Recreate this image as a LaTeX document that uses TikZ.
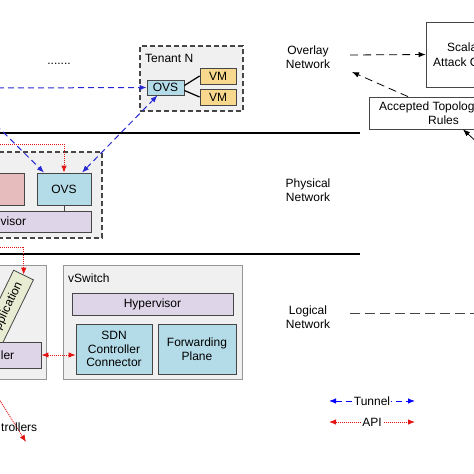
\documentclass[tikz,border=0pt]{standalone}
\usepackage{fontspec}
\setmainfont{Liberation Sans}
\usetikzlibrary{arrows.meta,positioning}
\definecolor{hostgray}{RGB}{240,240,240}
\definecolor{ovsblue}{RGB}{180,220,232}
\definecolor{vmyellow}{RGB}{247,216,140}
\definecolor{guestpink}{RGB}{230,188,188}
\definecolor{hvlavender}{RGB}{222,213,232}
\definecolor{appgreen}{RGB}{232,236,210}
\definecolor{tunnelblue}{RGB}{40,40,210}
\definecolor{apired}{RGB}{228,20,20}
\definecolor{edgegray}{RGB}{70,70,70}
\definecolor{framegray}{RGB}{150,150,150}

\begin{document}
\begin{tikzpicture}[x=1pt, y=-1pt, >={Latex[length=7pt,width=5.5pt]},
    every node/.style={font=\fontsize{12}{13.8}\selectfont, inner sep=0pt},
    hostdash/.style={draw=edgegray, fill=hostgray, line width=1.1pt, dash pattern=on 5pt off 3pt},
    hostplain/.style={draw=framegray, fill=hostgray, line width=1pt},
    ovsbox/.style={draw=edgegray, fill=ovsblue, line width=0.8pt, align=center},
    vmbox/.style={draw=edgegray, fill=vmyellow, line width=0.8pt},
    guestbox/.style={draw=edgegray, fill=guestpink, line width=0.8pt},
    hvbox/.style={draw=edgegray, fill=hvlavender, line width=0.8pt},
    appbox/.style={draw=edgegray, fill=appgreen, line width=0.8pt},
    plainbox/.style={draw=edgegray, fill=white, line width=0.8pt},
    tunnel/.style={draw=tunnelblue, line width=1pt, dash pattern=on 6pt off 4pt},
    api/.style={draw=apired, line width=0.9pt, dash pattern=on 1pt off 1pt},
    flow/.style={draw=black, line width=0.8pt, dash pattern=on 8pt off 5pt}]
  \useasboundingbox (0,0) rectangle (474,474);
  \clip (0,0) rectangle (474,474);

  % overlay network
  \node at (59,64) {.......};
  \node[hostdash, minimum width=103, minimum height=65] (tenant) at (191.5,78.5) {};
  \node[anchor=west] (tenantlbl) at (145,58) {Tenant N};
  \node[ovsbox, minimum width=37, minimum height=15] (tovs) at (165.5,87.5) {OVS};
  \node[vmbox, minimum width=36, minimum height=16] (vm1) at (218,76) {VM};
  \node[vmbox, minimum width=36, minimum height=16] (vm2) at (218,97) {VM};
  \draw[line width=1.2pt] ([yshift=2pt]tovs.east) -- (vm1.west);
  \draw[line width=1.2pt] ([yshift=-3pt]tovs.east) -- (vm2.west);

  % layer separators
  \draw[line width=1.7pt] (0,133) -- (360,133);
  \draw[line width=1.7pt] (0,254) -- (360,254);
  \node[align=center] (ovly) at (308,57) {Overlay\\Network};
  \node[align=center] (phys) at (308,190) {Physical\\Network};
  \node[align=center] (logi) at (308,317) {Logical\\Network};

  % right side
  \node[plainbox, minimum width=54, minimum height=65] (attack) at (453,54.5) {};
  \node[anchor=west] at (447,47) {Scala};
  \node[anchor=west] at (433,62) {Attack C};
  \node[plainbox, minimum width=111, minimum height=32] (rules) at (424.5,113) {};
  \node[anchor=west] at (379,107) {Accepted Topolog};
  \node at (443.5,120) {Rules};
  \coordinate (ovlyout) at (350,55);
  \coordinate (ovlyin) at (352,72);
  \coordinate (rulesfeed) at (480,145);
  \draw[flow, ->] (ovlyout) -- (attack.west);
  \draw[flow, ->] ([xshift=-16.5pt]rules.north) -- (ovlyin);
  \draw[line width=0.8pt, ->] (rulesfeed) -- ([xshift=38.5pt]rules.south);
  \coordinate (logiout) at (350,313);
  \coordinate (logiend) at (476,313);
  \draw[line width=1pt, draw=edgegray, dash pattern=on 10pt off 5pt] (logiout) -- (logiend);

  % physical network
  \node[hostdash, minimum width=112, minimum height=86] (phost) at (46,195) {};
  \node[guestbox, minimum width=34, minimum height=32] (guest) at (7,189) {};
  \node[ovsbox, minimum width=54, minimum height=32] (povs) at (64,189) {OVS};
  \node[hvbox, minimum width=101, minimum height=21] (phv) at (40.5,221.5) {};
  \node[anchor=west] at (0.5,221.5) {visor};
  \draw[line width=0.8pt, edgegray] (povs.south) -- (povs.south |- phv.north);
  \coordinate (apiin) at (-2,144);
  \draw[api, ->] (apiin) -| (povs.north);

  % tunnels
  \coordinate (tunleft) at (-2,88);
  \coordinate (tundiag) at (-4,125);
  \draw[tunnel, ->] (tunleft) -- (tovs.west);
  \draw[tunnel, ->] (tundiag) -- ([xshift=-20pt]povs.north);
  \draw[tunnel, <->] ([xshift=18pt]povs.north) -- ([xshift=-8pt]tovs.south);

  % logical network
  \node[hostplain, minimum width=56, minimum height=114] (ctrlhost) at (18,322) {};
  \node[appbox, rotate=64, minimum width=90, minimum height=22, text width=72pt, inner xsep=9pt, align=right] (app) at (3.8,315.5) {pplication};
  \node[hvbox, minimum width=51, minimum height=26] (ctrl) at (15.5,355) {};
  \node[anchor=west] at (-2,355) {ller};
  \coordinate (apiin2) at (-2,247);
  \draw[api, ->] (apiin2) -| (app.east);

  \node[hostplain, minimum width=179, minimum height=114] (vswitch) at (152.5,322) {};
  \node[anchor=west] (vswitchlbl) at (68,278) {vSwitch};
  \node[hvbox, minimum width=161, minimum height=22] (vhv) at (152.5,304) {Hypervisor};
  \node[ovsbox, minimum width=76, minimum height=50] (sdn) at (114,349) {SDN\\Controller\\Connector};
  \node[ovsbox, minimum width=78, minimum height=50] (fwd) at (197,349) {Forwarding\\Plane};
  \draw[api, <->] (ctrl.east) -- ([yshift=-6pt]sdn.west);

  % controllers
  \coordinate (apiout) at (-1,399);
  \coordinate (apiend) at (26,442);
  \draw[api, ->] (apiout) -- (apiend);
  \node[anchor=west] (ctrlslbl) at (1,427) {trollers};

  % legend
  \coordinate (tunA) at (329,401);
  \coordinate (tunB) at (415,401);
  \coordinate (apiA) at (329,422);
  \coordinate (apiB) at (415,422);
  \draw[tunnel, draw=blue, <->] (tunA) -- (tunB) node[midway, fill=white, inner xsep=1pt, inner ysep=2pt] (tunlbl) {Tunnel};
  \draw[api, <->] (apiA) -- (apiB) node[midway, fill=white, inner xsep=1pt, inner ysep=2pt] (apilbl) {API};
\end{tikzpicture}
\end{document}
